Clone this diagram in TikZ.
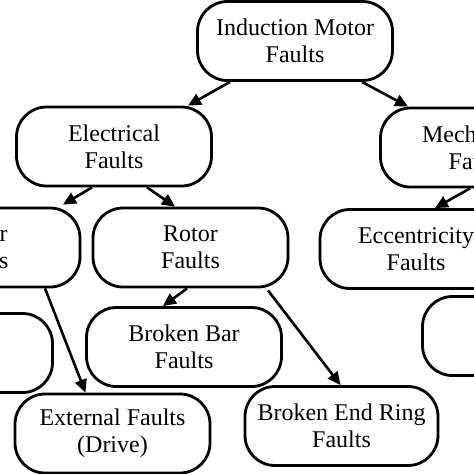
\documentclass[tikz,border=0pt]{standalone}
\usepackage{fontspec}
\setmainfont{Liberation Serif}
\usetikzlibrary{arrows.meta}
\begin{document}
\begin{tikzpicture}[x=1pt,y=-1pt,
  faultbox/.style={draw=black, line width=2.8pt, rounded corners=30pt,
    minimum width=195pt, minimum height=79pt, align=center,
    font=\fontsize{24pt}{27pt}\selectfont, inner sep=0pt},
  link/.style={line width=2.6pt, -{Triangle[length=13pt,width=12pt]}}]
\useasboundingbox (0,0) rectangle (474,474);
\begin{scope}
\clip (0,0) rectangle (474,474);
\node[faultbox] (top) at (295,41) {Induction Motor\\Faults};
\node[faultbox] (elec) at (114,146.5) {Electrical\\Faults};
\node[faultbox] (mech) at (478,147.5) {Mechanical\\Faults};
\node[faultbox, minimum width=202pt] (stator) at (-21,247.5) {Stator\\Faults};
\node[faultbox] (rotor) at (190.5,247.5) {Rotor\\Faults};
\node[faultbox, minimum width=192pt] (ecc) at (416,249) {Eccentricity\\Faults};
\node[faultbox] (statchild) at (-45,353) {};
\node[faultbox] (broken) at (184,347) {Broken Bar\\Faults};
\node[faultbox] (ext) at (112.5,433.5) {External Faults\\(Drive)};
\node[faultbox, minimum width=193pt] (ring) at (341.5,426) {Broken End Ring\\Faults};
\node[faultbox] (mechchild) at (520,336) {};
\draw[link] ([xshift=-65pt]top.south) -- ([xshift=74pt]elec.north);
\draw[link] ([xshift=67pt]top.south) -- ([xshift=-70pt]mech.north);
\draw[link] ([xshift=-22pt]elec.south) -- ([xshift=84pt,yshift=2pt]stator.north);
\draw[link] ([xshift=33pt]elec.south) -- ([xshift=-15.5pt]rotor.north);
\draw[link] ([xshift=-8pt]mech.south) -- ([xshift=19pt]ecc.north);
\draw[link] ([xshift=-3.5pt]rotor.south) -- ([xshift=-21pt]broken.north);
\draw[link] ([xshift=66pt]stator.south) -- ([xshift=-27pt]ext.north);
\draw[link] ([xshift=77.5pt,yshift=-2pt]rotor.south) -- ([xshift=-1pt]ring.north);
\end{scope}
\end{tikzpicture}
\end{document}
